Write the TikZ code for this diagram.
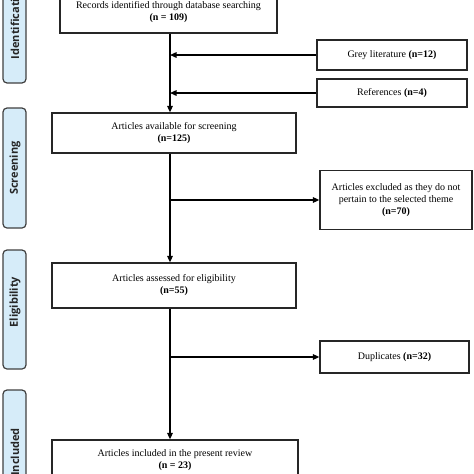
\documentclass[tikz,border=0pt]{standalone}
\usepackage{fontspec}
\setmainfont{Liberation Serif}
\newfontfamily\phasefont{Open Sans}
\usetikzlibrary{arrows.meta}
\definecolor{phaseblue}{RGB}{214,236,249}
\begin{document}
\begin{tikzpicture}[x=1pt,y=-1pt,
  box/.style={draw=black!85, line width=1.2pt, fill=white, align=center,
    font=\fontsize{10}{12}\selectfont, inner sep=0pt},
  phase/.style={draw=black!75, line width=1.2pt, fill=phaseblue, rounded corners=4pt},
  phasetext/.style={rotate=90, font=\phasefont\bfseries\fontsize{11}{13}\selectfont, text=black!85},
  arr/.style={line width=1.4pt, -{Triangle[length=6.5pt,width=5.5pt]}}]
\useasboundingbox (0,0) rectangle (474,474);
\clip (0,0) rectangle (474,474);
% phase boxes
\draw[phase] (3,-39) rectangle (26,83);
\draw[phase] (3,108) rectangle (26,228);
\draw[phase] (3,250) rectangle (26,369);
\draw[phase] (3,390) rectangle (26,510);
\node[phasetext] (pid) at (15,22) {Identification};
\node[phasetext] (psc) at (15,168) {Screening};
\node[phasetext] (pel) at (15,302) {Eligibility};
\node[phasetext] (pin) at (15,452) {Included};
% main boxes
\node[box, minimum width=217pt, minimum height=41pt] (rec) at (168.5,12.5)
  {Records identified through database searching\\ {\bfseries (n = 109)}};
\node[box, minimum width=150pt, minimum height=30pt] (grey) at (392,55)
  {Grey literature {\bfseries (n=12)}};
\node[box, minimum width=150pt, minimum height=28pt] (refs) at (392,93)
  {References {\bfseries (n=4)}};
\node[box, minimum width=244pt, minimum height=40pt] (avail) at (174,133)
  {Articles available for screening\\ {\bfseries (n=125)}};
\node[box, minimum width=152pt, minimum height=59pt] (excl) at (396,200)
  {Articles excluded as they do not\\ pertain to the selected theme\\ {\bfseries (n=70)}};
\node[box, minimum width=244pt, minimum height=45pt] (elig) at (174,285.5)
  {Articles assessed for eligibility\\ {\bfseries (n=55)}};
\node[box, minimum width=149pt, minimum height=32pt] (dup) at (394.5,357)
  {Duplicates {\bfseries (n=32)}};
\node[box, minimum width=246pt, minimum height=41pt] (incl) at (175,460.5)
  {Articles included in the present review\\ {\bfseries (n = 23)}};
% connectors
\coordinate (spine) at (170,0);
\draw[arr] (rec.south -| spine) -- (avail.north -| spine);
\draw[arr] (grey.west) -- (grey.west -| spine);
\draw[arr] (refs.west) -- (refs.west -| spine);
\draw[arr] (avail.south -| spine) -- (elig.north -| spine);
\draw[arr] (excl.west -| spine) -- (excl.west);
\draw[arr] (elig.south -| spine) -- (incl.north -| spine);
\draw[arr] (dup.west -| spine) -- (dup.west);
\end{tikzpicture}
\end{document}
